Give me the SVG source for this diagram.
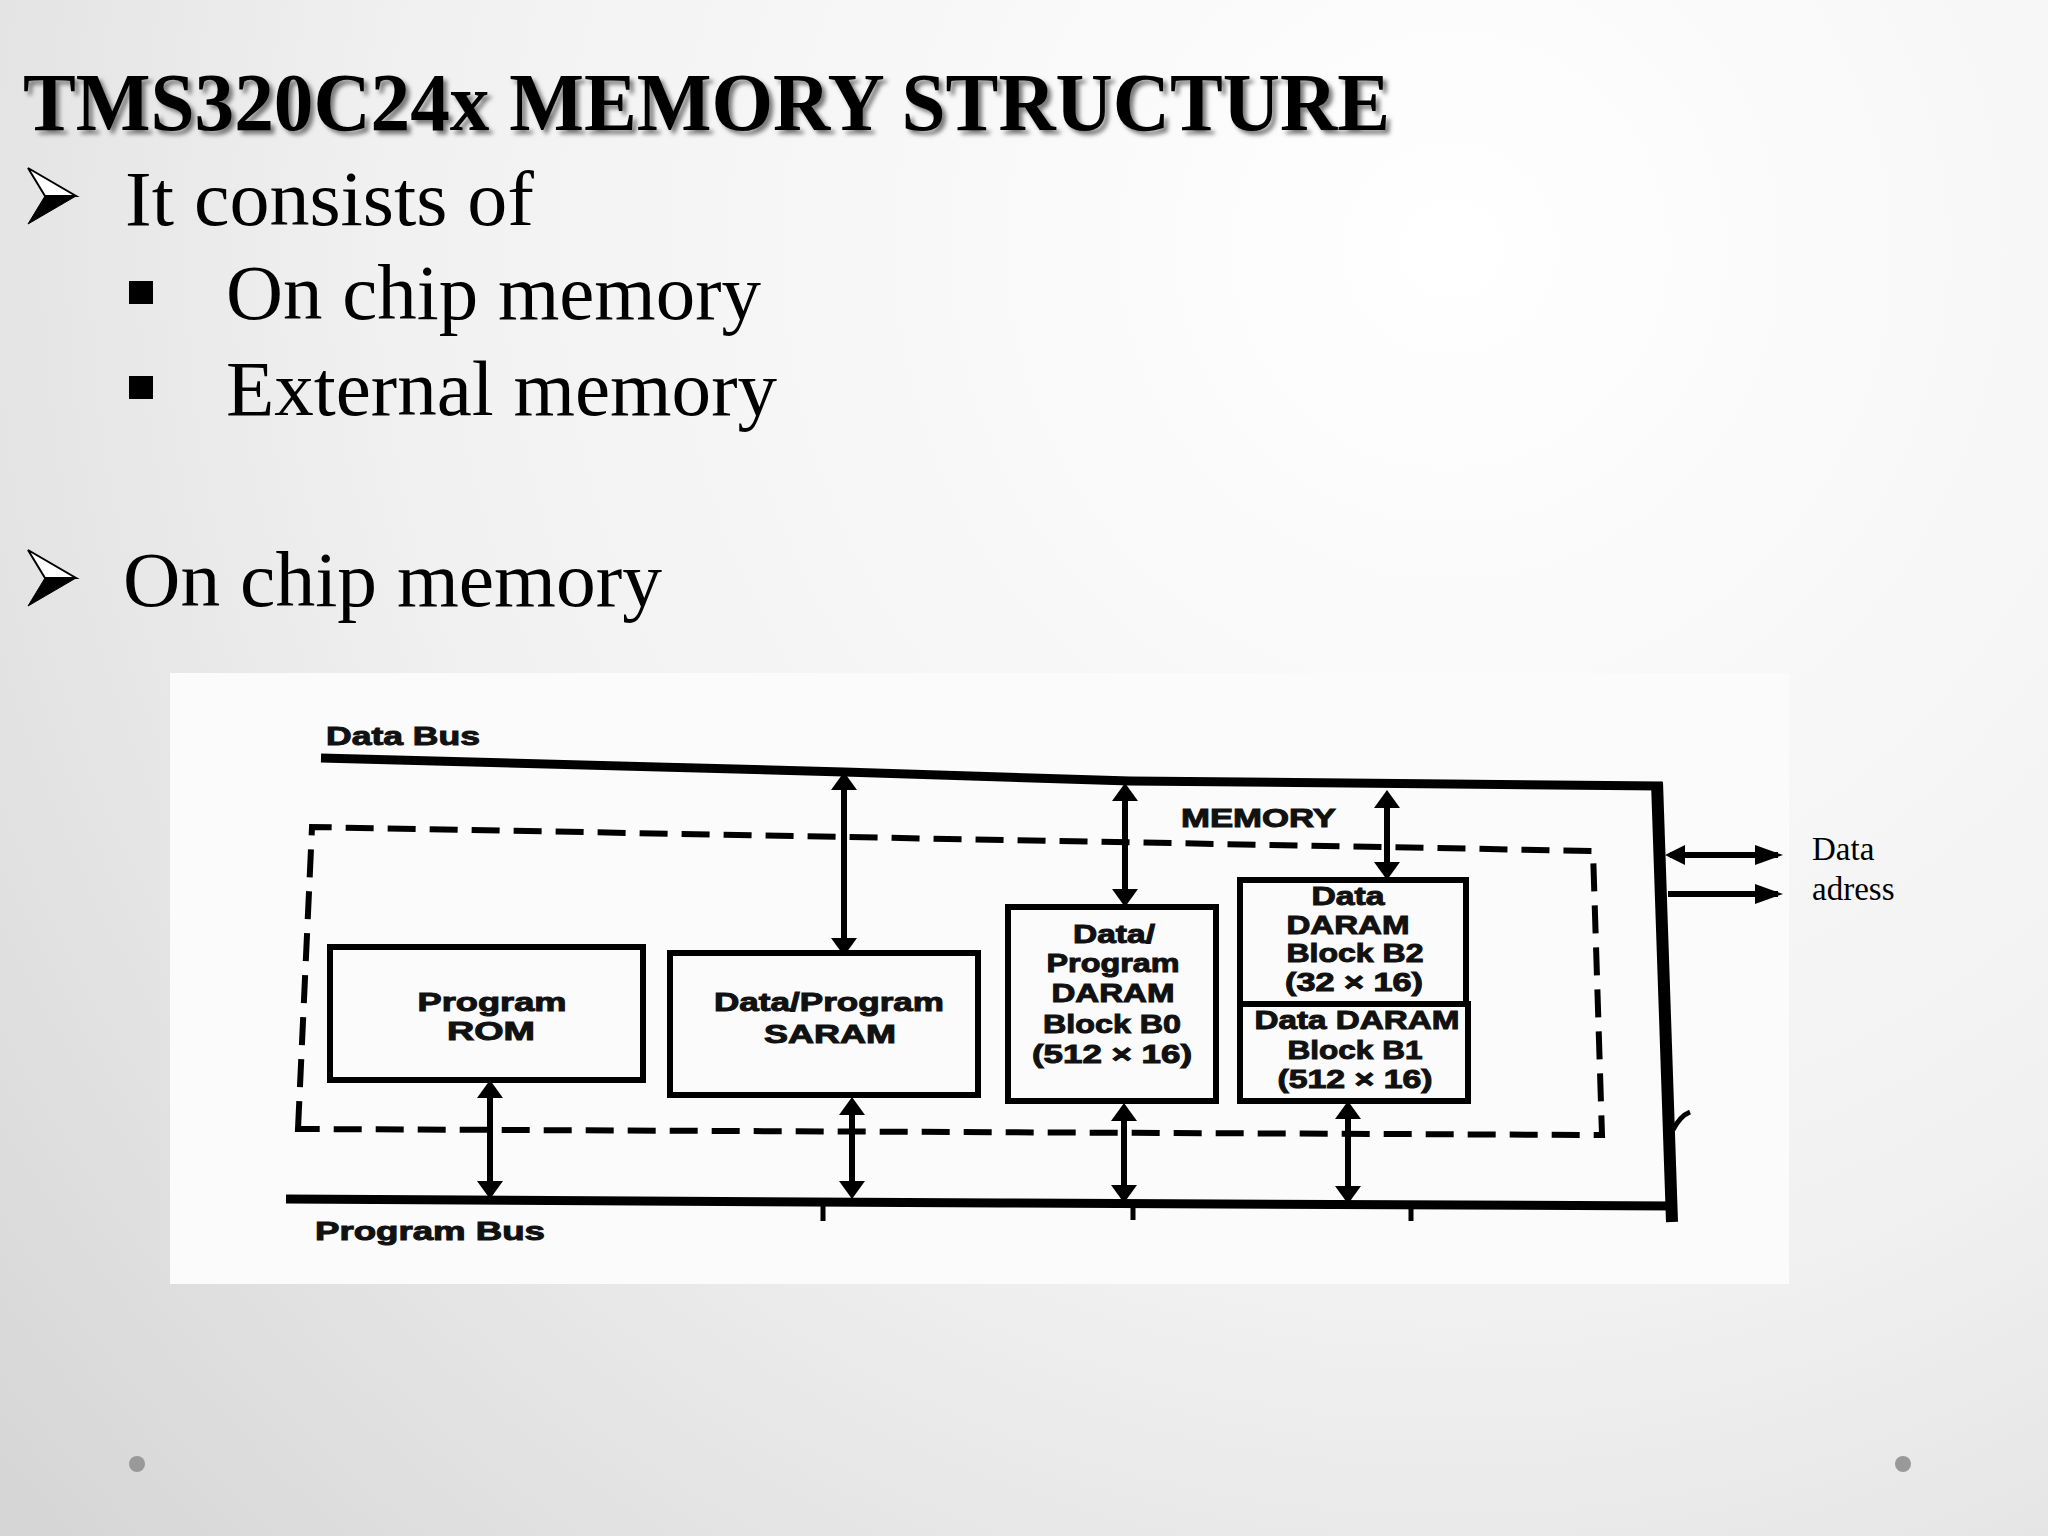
<svg xmlns="http://www.w3.org/2000/svg" width="2048" height="1536" viewBox="0 0 2048 1536">
<defs>
<radialGradient id="bg" cx="1450" cy="250" r="1900" gradientUnits="userSpaceOnUse">
<stop offset="0" stop-color="#ffffff"/>
<stop offset="0.55" stop-color="#f1f1f1"/>
<stop offset="1" stop-color="#d6d6d6"/>
</radialGradient>
<filter id="blur" x="-5%" y="-20%" width="110%" height="140%"><feGaussianBlur stdDeviation="2"/></filter>
<marker id="ah" viewBox="0 0 18 26" refX="13" refY="13" markerWidth="18" markerHeight="26" markerUnits="userSpaceOnUse" orient="auto-start-reverse"><path d="M0,0 L18,13 L0,26 Z" fill="#000"/></marker>
<marker id="ahb" viewBox="0 0 28 20" refX="23" refY="10" markerWidth="28" markerHeight="20" markerUnits="userSpaceOnUse" orient="auto-start-reverse"><path d="M0,0 L28,10 L0,20 Z" fill="#000"/></marker>
<marker id="ahs" viewBox="0 0 20 20" refX="15" refY="10" markerWidth="20" markerHeight="20" markerUnits="userSpaceOnUse" orient="auto-start-reverse"><path d="M0,0 L20,10 L0,20 Z" fill="#000"/></marker>
<style>
.slide{font-family:"Liberation Serif","Times New Roman",serif;fill:#000}
.title{font-size:82px;font-weight:bold}
.body{font-size:78px}
.lbl{font-family:"Liberation Sans",Arial,sans-serif;font-weight:bold;font-size:26px;fill:#111;stroke:#111;stroke-width:1}
.box{fill:none;stroke:#000;stroke-width:6}
.bus{fill:none;stroke:#000;stroke-width:9;stroke-linejoin:miter}
.dash{fill:none;stroke:#000;stroke-width:6;stroke-dasharray:28 14}
.arr{fill:none;stroke:#000;stroke-width:6;marker-start:url(#ah);marker-end:url(#ah)}
.side{font-family:"Liberation Serif","Times New Roman",serif;font-size:33px;fill:#000}
</style>
</defs>
<rect x="0" y="0" width="2048" height="1536" fill="url(#bg)"/>

<g id="title">
<text class="slide title" x="27" y="134" textLength="1367" lengthAdjust="spacingAndGlyphs" style="fill:#7a7a7a" filter="url(#blur)">TMS320C24x MEMORY STRUCTURE</text>
<text class="slide title" x="23" y="130" textLength="1367" lengthAdjust="spacingAndGlyphs">TMS320C24x MEMORY STRUCTURE</text>
</g>

<g id="bullets">
<g id="arrow-bullet-1">
<polygon points="28,168 76,196 45,196" fill="#fff" stroke="#000" stroke-width="2"/>
<polygon points="45,196 76,196 28,224" fill="#000" stroke="#000" stroke-width="1"/>
</g>
<text class="slide body" x="125" y="225" textLength="409" lengthAdjust="spacingAndGlyphs">It consists of</text>
<rect x="129" y="281" width="24" height="23" fill="#000"/>
<text class="slide body" x="226" y="319" textLength="535" lengthAdjust="spacingAndGlyphs">On chip memory</text>
<rect x="129" y="376" width="24" height="23" fill="#000"/>
<text class="slide body" x="226" y="415" textLength="551" lengthAdjust="spacingAndGlyphs">External memory</text>
<g id="arrow-bullet-2">
<polygon points="28,550 76,578 45,578" fill="#fff" stroke="#000" stroke-width="2"/>
<polygon points="45,578 76,578 28,606" fill="#000" stroke="#000" stroke-width="1"/>
</g>
<text class="slide body" x="123" y="606" textLength="539" lengthAdjust="spacingAndGlyphs">On chip memory</text>
</g>

<g id="diagram">
<rect x="170" y="673" width="1619" height="611" fill="#fbfbfb"/>

<g id="buses">
<polyline class="bus" points="321,758 844,772 1130,781 1662,786"/>
<path d="M1657,782 L1672,1222" fill="none" stroke="#000" stroke-width="12"/>
<polyline class="bus" points="286,1199 1000,1203 1676,1206"/>
<path d="M823,1204 V1221 M1133,1206 V1220 M1411,1207 V1221" stroke="#000" stroke-width="5" fill="none"/>
<path d="M1673,1130 Q1680,1116 1690,1112" stroke="#000" stroke-width="5" fill="none"/>
<text class="lbl" x="326" y="745" textLength="154" lengthAdjust="spacingAndGlyphs">Data Bus</text>
<text class="lbl" x="315" y="1240" textLength="230" lengthAdjust="spacingAndGlyphs">Program Bus</text>
</g>

<g id="memory-boundary">
<path class="dash" d="M298,1129 L312,827 L1593,851 L1602,1135 Z"/>
<text class="lbl" x="1181" y="827" textLength="155" lengthAdjust="spacingAndGlyphs">MEMORY</text>
</g>

<g id="program-rom">
<rect class="box" x="330" y="947" width="313" height="133"/>
<text class="lbl" x="492" y="1011" text-anchor="middle" textLength="149" lengthAdjust="spacingAndGlyphs">Program</text>
<text class="lbl" x="491" y="1040" text-anchor="middle" textLength="88" lengthAdjust="spacingAndGlyphs">ROM</text>
</g>

<g id="saram">
<rect class="box" x="670" y="953" width="308" height="142"/>
<text class="lbl" x="829" y="1011" text-anchor="middle" textLength="230" lengthAdjust="spacingAndGlyphs">Data/Program</text>
<text class="lbl" x="830" y="1043" text-anchor="middle" textLength="132" lengthAdjust="spacingAndGlyphs">SARAM</text>
</g>

<g id="daram-b0">
<rect class="box" x="1008" y="907" width="208" height="194"/>
<text class="lbl" x="1114" y="943" text-anchor="middle" textLength="82" lengthAdjust="spacingAndGlyphs">Data/</text>
<text class="lbl" x="1113" y="972" text-anchor="middle" textLength="133" lengthAdjust="spacingAndGlyphs">Program</text>
<text class="lbl" x="1113" y="1002" text-anchor="middle" textLength="123" lengthAdjust="spacingAndGlyphs">DARAM</text>
<text class="lbl" x="1112" y="1033" text-anchor="middle" textLength="138" lengthAdjust="spacingAndGlyphs">Block B0</text>
<text class="lbl" x="1112" y="1063" text-anchor="middle" textLength="160" lengthAdjust="spacingAndGlyphs">(512 × 16)</text>
</g>

<g id="daram-b2">
<rect class="box" x="1240" y="880" width="226" height="124"/>
<text class="lbl" x="1348" y="905" text-anchor="middle" textLength="73" lengthAdjust="spacingAndGlyphs">Data</text>
<text class="lbl" x="1348" y="934" text-anchor="middle" textLength="123" lengthAdjust="spacingAndGlyphs">DARAM</text>
<text class="lbl" x="1355" y="962" text-anchor="middle" textLength="137" lengthAdjust="spacingAndGlyphs">Block B2</text>
<text class="lbl" x="1354" y="991" text-anchor="middle" textLength="138" lengthAdjust="spacingAndGlyphs">(32 × 16)</text>
</g>

<g id="daram-b1">
<rect class="box" x="1240" y="1004" width="228" height="97"/>
<text class="lbl" x="1357" y="1029" text-anchor="middle" textLength="205" lengthAdjust="spacingAndGlyphs">Data DARAM</text>
<text class="lbl" x="1355" y="1059" text-anchor="middle" textLength="135" lengthAdjust="spacingAndGlyphs">Block B1</text>
<text class="lbl" x="1355" y="1088" text-anchor="middle" textLength="155" lengthAdjust="spacingAndGlyphs">(512 × 16)</text>
</g>

<g id="connectors">
<path class="arr" d="M844,777 L844,951"/>
<path class="arr" d="M1125,788 L1125,902"/>
<path class="arr" d="M1387,795 L1387,875"/>
<path class="arr" d="M490,1085 L490,1194"/>
<path class="arr" d="M852,1102 L852,1194"/>
<path class="arr" d="M1124,1108 L1124,1198"/>
<path class="arr" d="M1348,1106 L1348,1199"/>
<path d="M1670,855 L1778,855" fill="none" stroke="#000" stroke-width="6" marker-start="url(#ahs)" marker-end="url(#ahb)"/>
<path d="M1668,894 L1778,894" fill="none" stroke="#000" stroke-width="6" marker-end="url(#ahb)"/>
</g>

<g id="io-labels">
<text class="side" x="1812" y="860">Data</text>
<text class="side" x="1812" y="900">adress</text>
</g>
</g>

<circle cx="137" cy="1464" r="8" fill="#999"/>
<circle cx="1903" cy="1464" r="8" fill="#999"/>
</svg>
